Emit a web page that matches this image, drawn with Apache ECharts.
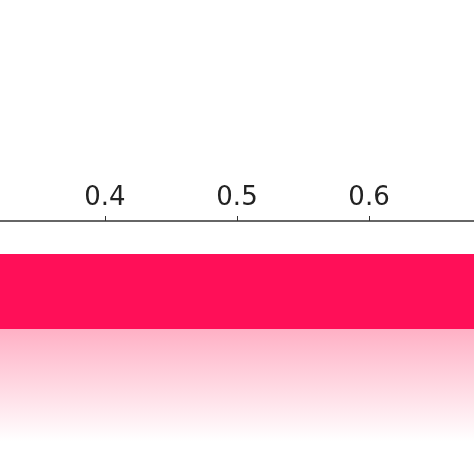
<!DOCTYPE html>
<html><head><meta charset="utf-8">
<script src="https://cdn.jsdelivr.net/npm/echarts@6/dist/echarts.min.js"></script>
<style>html,body{margin:0;padding:0;background:#fff}#c{width:474px;height:474px}</style>
</head><body><div id="c"></div>
<script>
const tickValues = [0.4, 0.5, 0.6];
const categories = ['band'];
const barValues = [0.6795];
const fadeValues = [0.6795];
const xMin = 0.3205, xMax = 0.6795;
const chart = echarts.init(document.getElementById('c'));
chart.setOption({
  animation: false,
  grid: {left: 0, right: 0, top: 221, bottom: -10},
  xAxis: {
    type: 'value', position: 'top', min: xMin, max: xMax,
    splitLine: {show: false},
    axisLine: {show: true, lineStyle: {color: '#333', width: 1.5}},
    axisTick: {show: true, inside: false, length: 5, customValues: tickValues, lineStyle: {color: '#333'}},
    axisLabel: {customValues: tickValues, fontFamily: 'DejaVu Sans', fontSize: 26, color: '#222', margin: 10,
      formatter: v => v.toFixed(1)}
  },
  yAxis: {type: 'category', data: categories, inverse: true, show: false},
  series: [
    {type: 'bar', data: barValues, barWidth: 75, barGap: '0%', itemStyle: {color: '#ff0f58'}},
    {type: 'bar', data: fadeValues, barWidth: 112, barGap: '0%',
      itemStyle: {color: new echarts.graphic.LinearGradient(0, 0, 0, 1, [
        {offset: 0, color: '#ffb0c5'}, {offset: 1, color: '#ffffff'}])}}
  ]
});
</script></body></html>
